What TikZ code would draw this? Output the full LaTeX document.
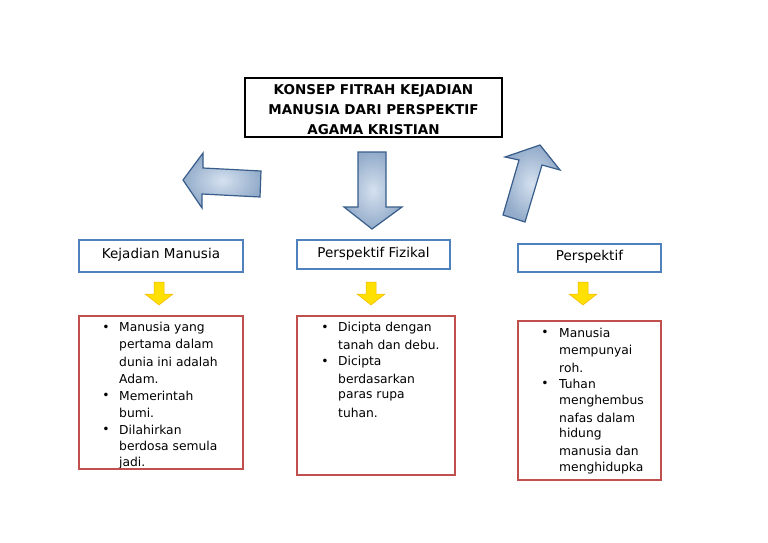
\documentclass[tikz,border=0pt]{standalone}
\usepackage{fontspec}
\setmainfont{DejaVu Sans}
\definecolor{bl}{HTML}{4F81BD}
\definecolor{rd}{HTML}{C0504D}
\definecolor{ad}{HTML}{385D8A}
\definecolor{af}{HTML}{B9CDE5}
\definecolor{yl}{HTML}{FFE000}
\definecolor{yd}{HTML}{F0B400}
\begin{document}
\begin{tikzpicture}[x=1pt,y=-1pt,
  bbox/.style={draw=bl,line width=1.5pt},
  rbox/.style={draw=rd,line width=1.5pt},
  blk/.style={draw=ad,line width=1.2pt,inner color=white!40!af,outer color=af!70!ad},
  ya/.style={fill=yl,draw=yd,line width=0.5pt},
  tx/.style={anchor=west,inner sep=0pt,font=\fontsize{12.3}{14}\selectfont},
  bu/.style={anchor=center,inner sep=0pt,font=\fontsize{12.3}{14}\selectfont},
  hd/.style={inner sep=0pt,font=\fontsize{13.5}{15}\selectfont},
  tt/.style={inner sep=0pt,font=\bfseries\fontsize{13.5}{15}\selectfont}]
\useasboundingbox (0,0) rectangle (768,543);
% title
\draw[line width=1.8pt] (245,78) rectangle (502,137);
\begin{scope}
\clip (245,78) rectangle (502,135.5);
\node[tt] (t1) at (373.5,91) {KONSEP FITRAH KEJADIAN};
\node[tt] (t2) at (373.5,110) {MANUSIA DARI PERSPEKTIF};
\node[tt] (t3) at (373.5,130) {AGAMA KRISTIAN};
\end{scope}
% blue block arrows
\draw[blk] (183,180) -- (203,153) -- (203,168) -- (261,171) -- (260,197) -- (202,194) -- (202,208) -- cycle;
\draw[blk] (358,152) -- (386,152) -- (386,207) -- (402,207) -- (372,229) -- (344,207) -- (358,207) -- cycle;
\draw[blk] (540,145) -- (560,170) -- (542,165) -- (525,222) -- (503,215) -- (519,160) -- (505,157) -- cycle;
% headers
\draw[bbox] (79,240) rectangle (243,272);
\node[hd] (h1) at (161,255) {Kejadian Manusia};
\draw[bbox] (297,240) rectangle (450,269);
\node[hd] (h2) at (373.5,254) {Perspektif Fizikal};
\draw[bbox] (518,244) rectangle (661,272);
\node[hd] (h3) at (589.5,257) {Perspektif};
% yellow arrows
\foreach \cx in {159,371,583}{
  \draw[ya] (\cx-5,282) -- (\cx+5,282) -- (\cx+5,294) -- (\cx+14,294) -- (\cx,305) -- (\cx-14,294) -- (\cx-5,294) -- cycle;}
% red boxes
\draw[rbox] (79,316) rectangle (243,469);
\begin{scope}
\clip (80,317) rectangle (242,467);
\foreach \y/\t in {328/Manusia yang,345/pertama dalam,362/dunia ini adalah,379/Adam.,396/Memerintah,413/bumi.,430/Dilahirkan,446/berdosa semula,463/jadi.}
  \node[tx] at (119,\y) {\t};
\foreach \y in {328,396,430} \node[bu] at (106,\y) {\textbullet};
\end{scope}
\draw[rbox] (297,316) rectangle (455,475);
\foreach \y/\t in {328/Dicipta dengan,345/tanah dan debu.,362/Dicipta,379/berdasarkan,396/paras rupa,413/tuhan.}
  \node[tx] at (338,\y) {\t};
\foreach \y in {328,362} \node[bu] at (325,\y) {\textbullet};
\draw[rbox] (518,321) rectangle (661,480);
\foreach \y/\t in {333/Manusia,351/mempunyai,368/roh.,384/Tuhan,401/menghembus,418/nafas dalam,434/hidung,451/manusia dan,468/menghidupka}
  \node[tx] at (559,\y) {\t};
\foreach \y in {333,384} \node[bu] at (545,\y) {\textbullet};
\end{tikzpicture}
\end{document}
